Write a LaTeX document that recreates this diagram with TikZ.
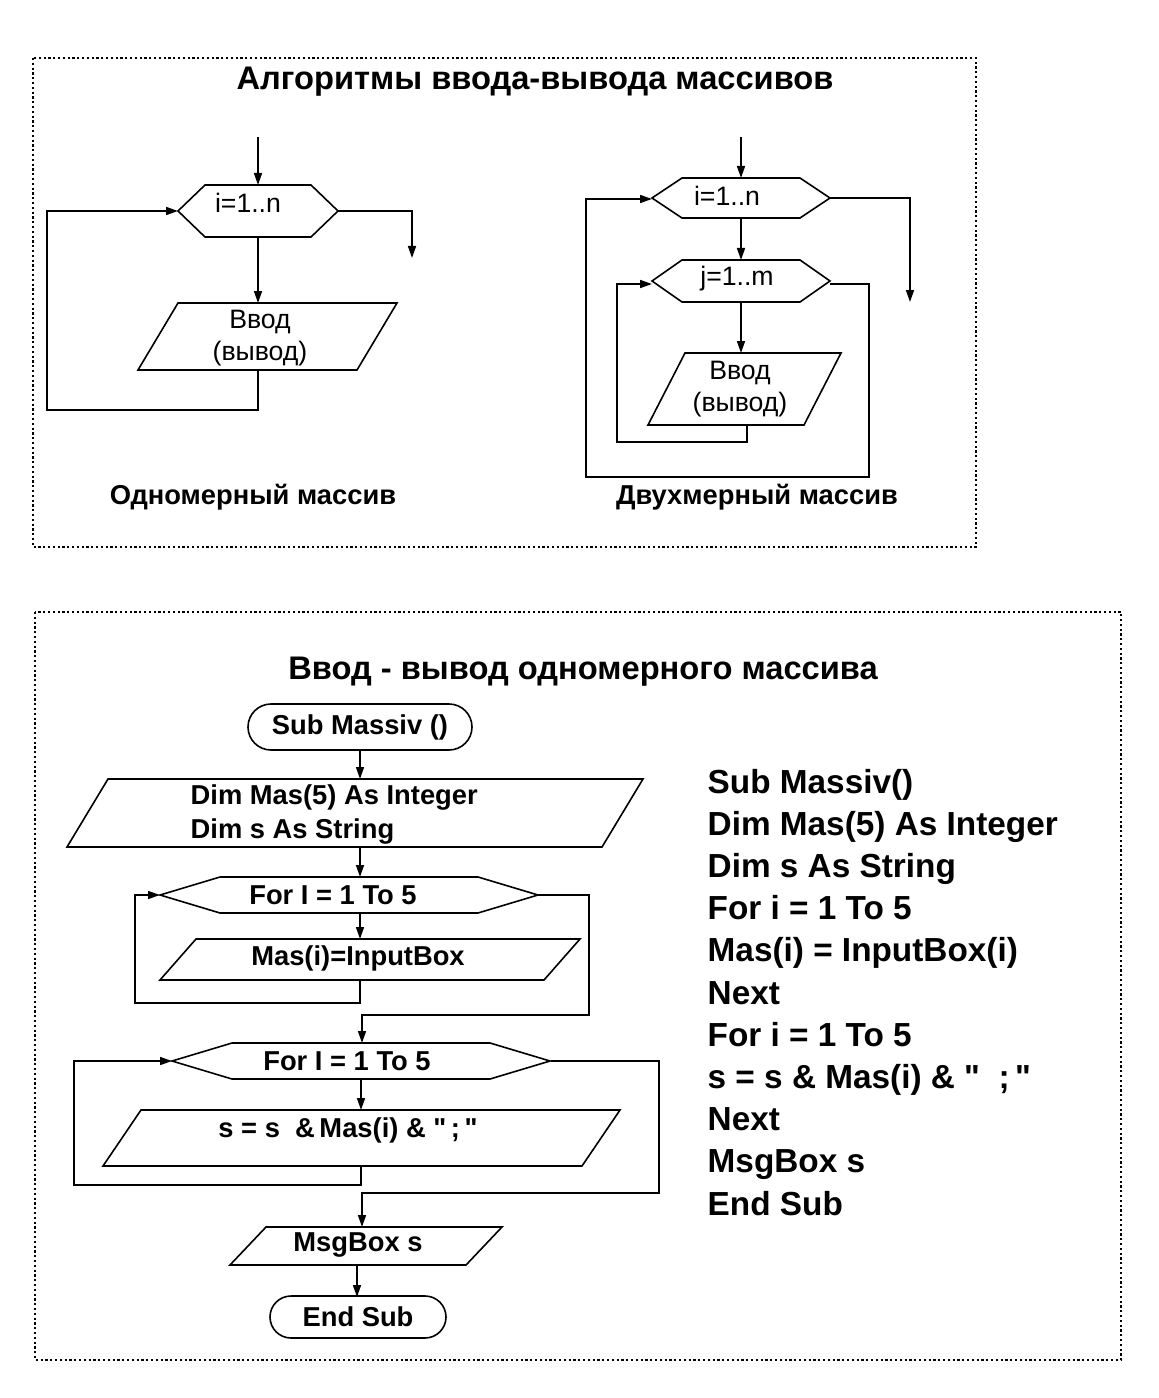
\documentclass[tikz,border=0pt]{standalone}
\usepackage{fontspec}
\setmainfont[Ligatures=NoCommon]{Liberation Sans}
\usetikzlibrary{arrows.meta,shapes.misc}
\newcommand\myhex[5]{\draw[ln] (#1-#3,#2) -- (#1-#3+#5,#2-#4) -- (#1+#3-#5,#2-#4) -- (#1+#3,#2) -- (#1+#3-#5,#2+#4) -- (#1-#3+#5,#2+#4) -- cycle;}
\newcommand\mypar[5]{\draw[ln] (#2,#1) -- (#3,#1) -- (#3-#5,#4) -- (#2-#5,#4) -- cycle;}
\newcommand\qq{\textquotedbl}
\begin{document}
\begin{tikzpicture}[x=0.75pt,y=-0.75pt,
  ln/.style={line width=1.2pt},
  ar/.style={ln,-{Triangle[length=9pt,width=6pt]}},
  box/.style={line width=1.6pt,dotted},
  ttl/.style={font=\fontsize{24.5}{28}\selectfont\bfseries},
  t1/.style={font=\fontsize{20}{24}\selectfont},
  lab/.style={font=\fontsize{20.5}{24}\selectfont\bfseries},
  t2/.style={font=\fontsize{20.5}{24}\selectfont\bfseries},
  code/.style={font=\fontsize{25}{28}\selectfont\bfseries,anchor=base west}]
\useasboundingbox (0,0) rectangle (1159,1398);
\draw[box] (33,58) rectangle (976,547);
\node[ttl] (t1) at (535,82) {Алгоритмы ввода-вывода массивов};
% left
\myhex{258}{211}{80}{26}{27}
\node[t1] (h1) at (248,203) {i=1..n};
\draw[ar] (258,137) -- (258,185);
\draw[ar] (337,211) -- (412,211) -- (412,258);
\mypar{303}{178}{397}{370}{40}
\node[t1,align=center] (p1) at (260,338) {Ввод\\(вывод)};
\draw[ar] (258,237) -- (258,303);
\draw[ar] (258,370) -- (258,410) -- (47,410) -- (47,211) -- (178,211);
\node[lab] (l1) at (253,497) {Одномерный массив};
% right
\myhex{741}{198}{89}{20}{30}
\node[t1] (h2) at (727,196) {i=1..n};
\draw[ar] (741,137) -- (741,178);
\draw[ar] (830,198) -- (910,198) -- (910,302);
\myhex{741}{281}{89}{21}{30}
\node[t1] (h3) at (737,279) {j=1..m};
\draw[ar] (741,218) -- (741,260);
\draw[ar] (741,302) -- (741,353);
\mypar{353}{685}{841}{425}{37}
\node[t1,align=center] (p2) at (740,389) {Ввод\\(вывод)};
\draw[ar] (747,425) -- (747,442) -- (617,442) -- (617,284) -- (652,284);
\draw[ar] (830,284) -- (869,284) -- (869,477) -- (586,477) -- (586,199) -- (652,199);
\node[lab] (l2) at (757,497) {Двухмерный массив};
% bottom
\draw[box] (35,612) rectangle (1121,1360);
\node[ttl] (t2) at (583,672) {Ввод - вывод одномерного массива};
\node[draw,ln,rounded rectangle,inner sep=0pt,minimum width=224*0.75pt,minimum height=46*0.75pt,t2] (s) at (360,727) {Sub Massiv ()};
\mypar{779}{108}{643}{847}{41}
\node[t2,anchor=west] at (186,797) {Dim Mas(5) As Integer};
\node[t2,anchor=west] at (186,831) {Dim s As String};
\draw[ar] (360,750) -- (360,779);
\myhex{349}{895}{189}{18}{60}
\node[t2] (f1) at (333,895) {For I = 1 To 5};
\draw[ar] (360,847) -- (360,877);
\mypar{939}{196}{580}{980}{36}
\node[t2] (m1) at (358,958) {Mas(i)=InputBox};
\draw[ar] (360,913) -- (360,939);
\draw[ar] (360,980) -- (360,1003) -- (135,1003) -- (135,895) -- (160,895);
\draw[ar] (538,895) -- (589,895) -- (589,1015) -- (362,1015) -- (362,1043);
\myhex{361}{1061}{189}{18}{60}
\node[t2] (f2) at (347,1061) {For I = 1 To 5};
\mypar{1110}{141}{620}{1166}{38}
\node[t2] (m2) at (348,1130) {s = s \ \&\,Mas(i) \& \qq\,;\,\qq};
\draw[ar] (361,1080) -- (361,1110);
\draw[ar] (361,1166) -- (361,1185) -- (74,1185) -- (74,1061) -- (172,1061);
\draw[ar] (551,1061) -- (659,1061) -- (659,1193) -- (362,1193) -- (362,1227);
\mypar{1227}{266}{502}{1265}{36}
\node[t2] (mb) at (358,1245) {MsgBox s};
\draw[ar] (357,1265) -- (357,1297);
\node[draw,ln,rounded rectangle,inner sep=0pt,minimum width=176*0.75pt,minimum height=42*0.75pt,t2] (e) at (358,1317) {End Sub};
\foreach \t [count=\i from 0] in {Sub Massiv(),Dim Mas(5) As Integer,Dim s As String,For i = 1 To 5,Mas(i) = InputBox(i),Next,For i = 1 To 5,{s = s \& Mas(i) \& \qq\ \ ;\,\qq},Next,MsgBox s,End Sub}
  \node[code] at (703,793+42.2*\i) {\t};
\end{tikzpicture}
\end{document}
